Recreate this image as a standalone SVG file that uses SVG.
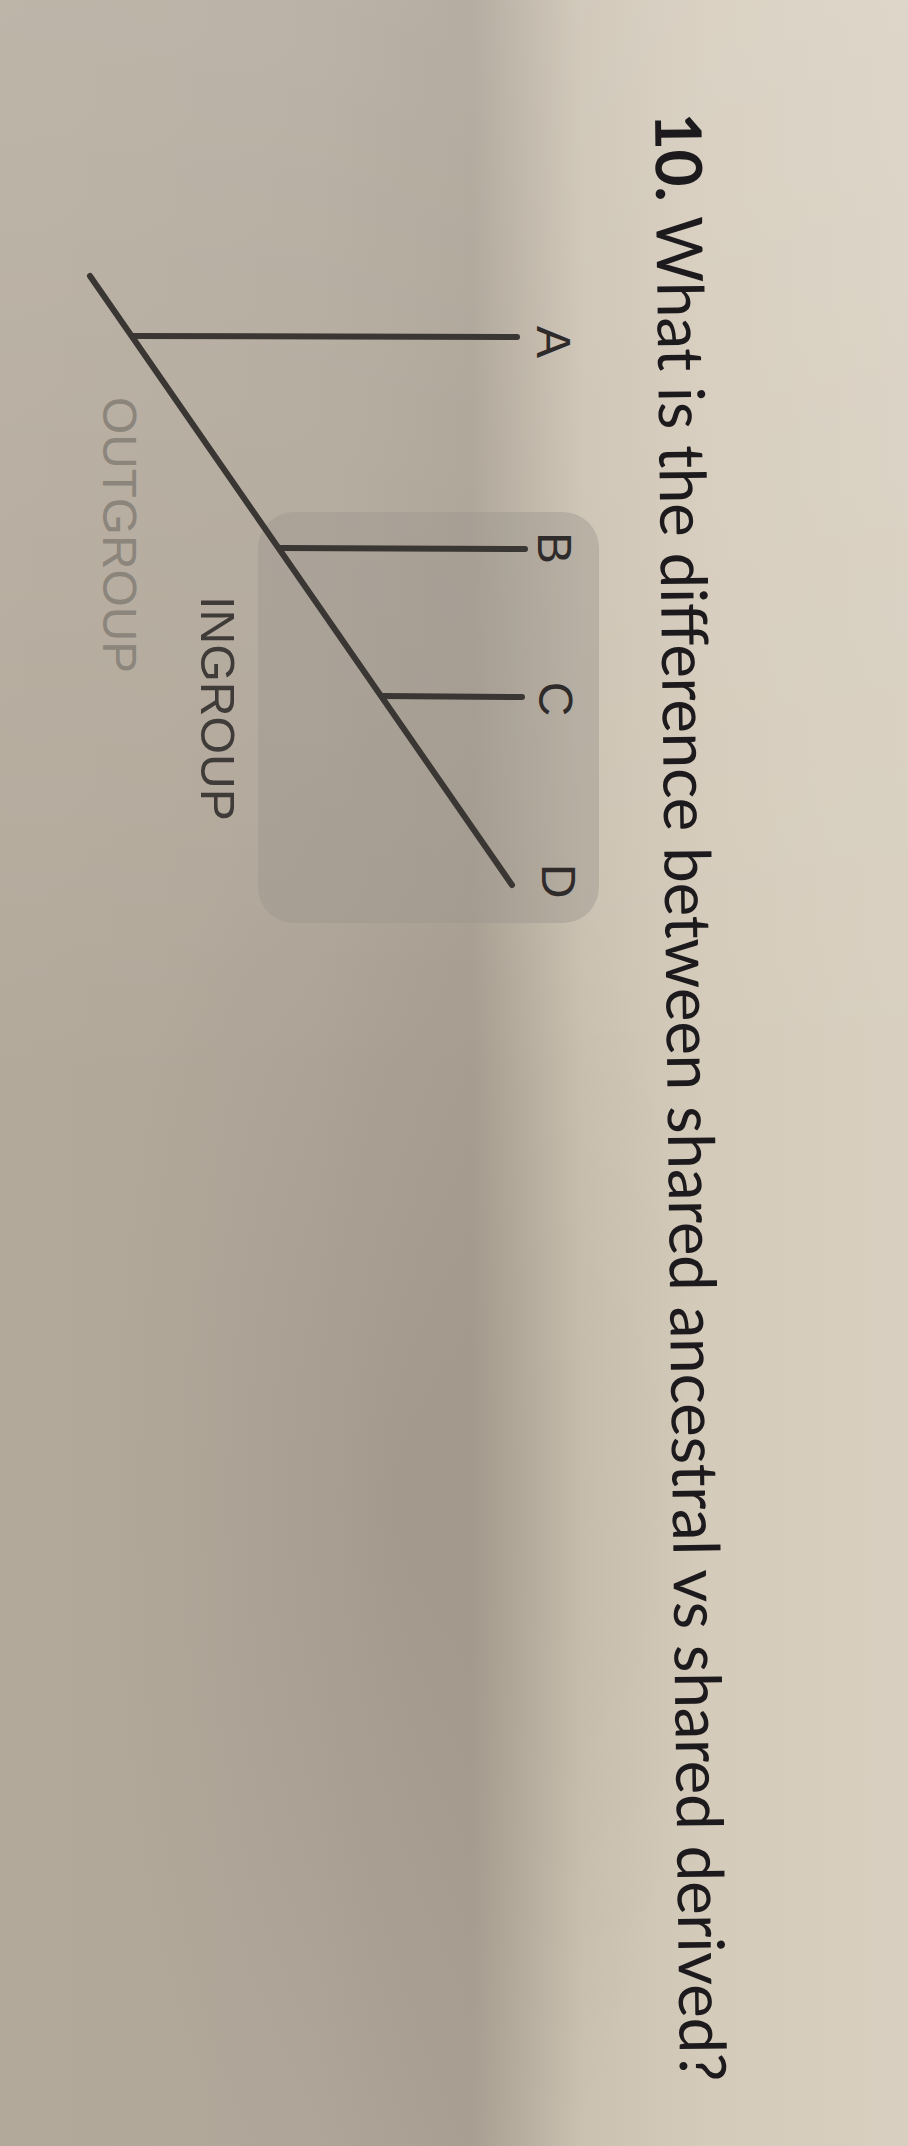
<svg xmlns="http://www.w3.org/2000/svg" width="908" height="2146" viewBox="0 0 908 2146">
  <defs>
    <linearGradient id="paperX" x1="0" y1="0" x2="1" y2="0">
      <stop offset="0" stop-color="#b3a99b"/>
      <stop offset="0.35" stop-color="#b0a699"/>
      <stop offset="0.52" stop-color="#aaa093"/>
      <stop offset="0.64" stop-color="#cbc1b1"/>
      <stop offset="0.78" stop-color="#d5cbbb"/>
      <stop offset="1" stop-color="#d8cfc0"/>
    </linearGradient>
    <linearGradient id="lightTop" x1="0" y1="0" x2="0" y2="1">
      <stop offset="0" stop-color="#ffffff" stop-opacity="0.14"/>
      <stop offset="1" stop-color="#ffffff" stop-opacity="0"/>
    </linearGradient>
    <radialGradient id="shadow" cx="0.5" cy="0.5" r="0.5">
      <stop offset="0" stop-color="#4a4035" stop-opacity="0.10"/>
      <stop offset="1" stop-color="#4a4035" stop-opacity="0"/>
    </radialGradient>
    <style>
      .q { font-family: Lato, "Open Sans", "Liberation Sans", sans-serif; font-size: 64px; fill: #1c1a1c; }
      .lbl { font-family: "Liberation Sans", Arial, sans-serif; font-size: 48px; fill: #2e2b2a; text-anchor: middle; }
      .grp { font-family: "Liberation Sans", Arial, sans-serif; font-size: 48px; }
      .edge { stroke: #3a3634; stroke-width: 6; stroke-linecap: round; fill: none; }
    </style>
  </defs>

  <g id="background">
    <rect x="0" y="0" width="908" height="2146" fill="url(#paperX)"/>
    <rect x="0" y="0" width="908" height="1100" fill="url(#lightTop)"/>
    <ellipse cx="400" cy="1500" rx="300" ry="800" fill="url(#shadow)"/>
  </g>

  <g id="question">
    <text class="q" transform="translate(655,113) rotate(89.27)" textLength="1969" lengthAdjust="spacing"><tspan font-weight="bold">10.</tspan> What is the difference between shared ancestral vs shared derived?</text>
  </g>

  <g id="ingroup-box">
    <rect x="258" y="512" width="341" height="411" rx="36" ry="36" fill="#9d978f" fill-opacity="0.45"/>
  </g>

  <g id="connectors">
    <line class="edge" x1="90" y1="276" x2="512" y2="885"/>
    <line class="edge" x1="133" y1="336" x2="517" y2="337"/>
    <line class="edge" x1="280" y1="548" x2="525" y2="549"/>
    <line class="edge" x1="382" y1="696" x2="522" y2="697"/>
  </g>

  <g id="node-A">
    <text class="lbl" transform="translate(537,342) rotate(90)">A</text>
  </g>
  <g id="node-B">
    <text class="lbl" transform="translate(538,548) rotate(90)">B</text>
  </g>
  <g id="node-C">
    <text class="lbl" transform="translate(539,699) rotate(90)">C</text>
  </g>
  <g id="node-D">
    <text class="lbl" transform="translate(542,881) rotate(90)">D</text>
  </g>

  <g id="label-ingroup">
    <text class="grp" fill="#3f3b38" transform="translate(201,596) rotate(90)" textLength="225" lengthAdjust="spacingAndGlyphs">INGROUP</text>
  </g>
  <g id="label-outgroup">
    <text class="grp" fill="#8c857c" transform="translate(103,397) rotate(90)" textLength="276" lengthAdjust="spacingAndGlyphs">OUTGROUP</text>
  </g>
</svg>
